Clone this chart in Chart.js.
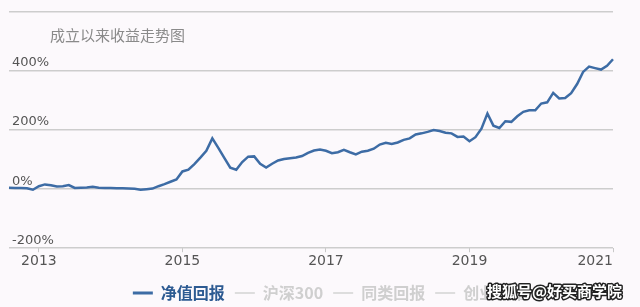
<!DOCTYPE html>
<html>
<head>
<meta charset="utf-8">
<script src="https://cdn.jsdelivr.net/npm/chart.js@4.4.0/dist/chart.umd.min.js"></script>
<style>
  html, body { margin: 0; padding: 0; background: #fcf9fc; }
  #wrap { position: relative; width: 640px; height: 307px; }
</style>
</head>
<body>
<div id="wrap"><canvas id="chart" width="640" height="307"></canvas></div>
<script>
// month labels, one per point
const months = [
  '2012-08','2012-09','2012-10','2012-11','2012-12',
  '2013-01','2013-02','2013-03','2013-04','2013-05','2013-06','2013-07','2013-08','2013-09','2013-10','2013-11','2013-12',
  '2014-01','2014-02','2014-03','2014-04','2014-05','2014-06','2014-07','2014-08','2014-09','2014-10','2014-11','2014-12',
  '2015-01','2015-02','2015-03','2015-04','2015-05','2015-06','2015-07','2015-08','2015-09','2015-10','2015-11','2015-12',
  '2016-01','2016-02','2016-03','2016-04','2016-05','2016-06','2016-07','2016-08','2016-09','2016-10','2016-11','2016-12',
  '2017-01','2017-02','2017-03','2017-04','2017-05','2017-06','2017-07','2017-08','2017-09','2017-10','2017-11','2017-12',
  '2018-01','2018-02','2018-03','2018-04','2018-05','2018-06','2018-07','2018-08','2018-09','2018-10','2018-11','2018-12',
  '2019-01','2019-02','2019-03','2019-04','2019-05','2019-06','2019-07','2019-08','2019-09','2019-10','2019-11','2019-12',
  '2020-01','2020-02','2020-03','2020-04','2020-05','2020-06','2020-07','2020-08','2020-09','2020-10','2020-11','2020-12',
  '2021-01'
];

// 净值回报 (%)
const navReturn = [
  5, 4, 4, 3, -2,
  10, 16, 13, 9, 10, 14, 4, 5, 6, 8, 5, 4,
  4, 3, 3, 2, 1, -2, 0, 2, 10, 17, 25, 33,
  60, 66, 85, 107, 130, 172, 140, 106, 73, 66, 92, 110,
  111, 86, 73, 86, 97, 102, 105, 107, 112, 123, 131, 134,
  130, 122, 125, 133, 125, 118, 127, 130, 137, 151, 157, 153,
  158, 167, 172, 185, 189, 194, 200, 197, 191, 189, 177, 178,
  162, 176, 205, 256, 215, 207, 230, 228, 247, 262, 267, 267,
  290, 294, 326, 307, 309, 325, 356, 397, 415, 410, 405, 418,
  440
];

// the other series are switched off in the picture
const hs300 = [];
const peerReturn = [];
const chinext = [];

const seriesNames = ['净值回报', '沪深300', '同类回报', '创业板指'];
const yTicks = [600, 400, 200, 0, -200];
const xTickMonths = ['2013-01', '2015-01', '2017-01', '2019-01', '2021-01'];
const titleText = '成立以来收益走势图';
const watermark = '搜狐号@好买商学院';

const BLUE = '#3d6ca5';
const OFF = '#d3d3d3';

const cornerTitle = {
  id: 'cornerTitle',
  afterDraw(chart) {
    const { ctx, chartArea } = chart;
    ctx.save();
    ctx.font = '15px "Noto Sans CJK SC"';
    ctx.fillStyle = '#8a8a8a';
    ctx.textBaseline = 'middle';
    ctx.fillText(titleText, chartArea.left + 41, chartArea.top + 23);
    ctx.restore();
  }
};

const stamp = {
  id: 'stamp',
  afterDraw(chart) {
    const ctx = chart.ctx;
    ctx.save();
    ctx.font = 'bold 15px "Noto Sans CJK SC"';
    ctx.textBaseline = 'middle';
    ctx.lineJoin = 'round';
    ctx.lineWidth = 3;
    ctx.strokeStyle = '#222';
    ctx.strokeText(watermark, 487, 291);
    ctx.fillStyle = '#fff';
    ctx.fillText(watermark, 487, 291);
    ctx.restore();
  }
};

// legend sits a bit right of centre in the original
const nudgeLegend = {
  id: 'nudgeLegend',
  afterLayout(chart) {
    const lg = chart.legend;
    lg.left += 22; lg.right += 22;
    lg.top += 4; lg.bottom += 4;
  }
};

new Chart(document.getElementById('chart').getContext('2d'), {
  type: 'line',
  data: {
    labels: months,
    datasets: [
      { label: seriesNames[0], data: navReturn, borderColor: BLUE, borderWidth: 2.5, pointRadius: 0, tension: 0 },
      { label: seriesNames[1], data: hs300, borderColor: OFF, borderWidth: 1.5, pointRadius: 0 },
      { label: seriesNames[2], data: peerReturn, borderColor: OFF, borderWidth: 1.5, pointRadius: 0 },
      { label: seriesNames[3], data: chinext, borderColor: OFF, borderWidth: 1.5, pointRadius: 0 }
    ]
  },
  options: {
    responsive: false,
    animation: false,
    layout: { padding: { left: 3, right: 27, top: 12, bottom: 0 } },
    plugins: {
      title: { display: false },
      tooltip: { enabled: false },
      legend: {
        position: 'bottom',
        labels: {
          usePointStyle: true,
          pointStyleWidth: 20,
          padding: 10,
          font: { family: 'Noto Sans CJK SC', size: 16, weight: 'bold' },
          generateLabels: chart => chart.data.datasets.map((ds, i) => ({
            text: ds.label,
            fillStyle: ds.borderColor,
            strokeStyle: ds.borderColor,
            lineWidth: i === 0 ? 3 : 1.5,
            fontColor: i === 0 ? '#2d5b92' : '#cfcfcf',
            pointStyle: 'line',
            hidden: false,
            datasetIndex: i
          }))
        }
      }
    },
    scales: {
      x: {
        type: 'category',
        offset: false,
        border: { display: false },
        afterFit: scale => { scale.paddingRight = 0; },
        grid: {
          drawOnChartArea: false,
          drawTicks: true,
          tickLength: 4,
          color: ctx => xTickMonths.includes(months[ctx.index]) ? '#c8c8c8' : 'transparent'
        },
        ticks: {
          autoSkip: false,
          maxRotation: 0,
          padding: 1,
          color: '#555',
          font: { family: 'DejaVu Sans', size: 14 },
          callback: (v, i) => {
            if (!xTickMonths.includes(months[i])) return '';
            const yr = months[i].slice(0, 4);
            // last label ends at the right edge, like the original
            return i === months.length - 1 ? yr + '\u00a0'.repeat(8) : yr;
          }
        }
      },
      y: {
        min: -200,
        max: 600,
        afterBuildTicks: scale => { scale.ticks = yTicks.map(v => ({ value: v })); },
        border: { display: false },
        grid: { color: '#cdcdcd', lineWidth: 1.5, drawTicks: false },
        ticks: {
          mirror: true,
          padding: 3,
          labelOffset: -8,
          color: '#555',
          font: { family: 'DejaVu Sans', size: 13 },
          callback: v => v === 600 ? '' : v + '%'
        }
      }
    }
  },
  plugins: [cornerTitle, stamp, nudgeLegend]
});
</script>
</body>
</html>
